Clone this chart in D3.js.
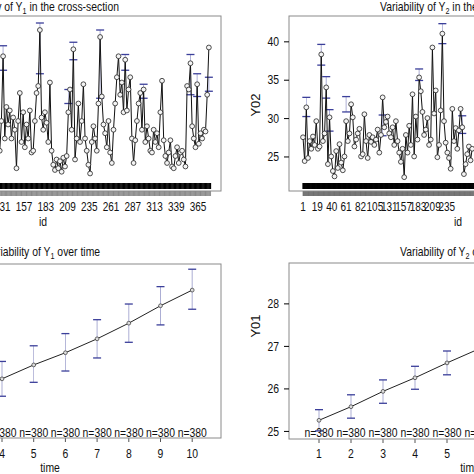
<!DOCTYPE html>
<html><head><meta charset="utf-8">
<script src="https://cdn.jsdelivr.net/npm/d3@7"></script>
<style>body{margin:0;background:#fff}text{font-family:"Liberation Sans",Arial,sans-serif;fill:#111}</style>
</head><body><svg id="c" width="474" height="474"></svg>
<script>
// ---- data ----
var tlValues = [23,40,77,30,48,38,46,30,42,35,13,40,56,28,45,25,38,30,46,22,23,40,56,60,92,42,35,45,39,28,62,23,15,12,18,13,17,11,19,14,20,45,58,35,81,18,30,50,28,40,61,30,23,15,10,28,37,30,23,50,88,54,38,33,25,40,22,16,35,50,65,77,55,62,45,75,46,58,65,30,16,29,40,50,56,35,58,28,37,30,23,22,35,28,33,25,45,63,29,20,16,22,29,14,13,20,25,16,22,23,18,14,60,58,73,37,30,25,61,27,33,30,35,34,55,82];
var tlCiIdx = [2,24,44,41,60,75,86,114,118,125];
var tlCiLo = [69,67,75,50,53,69,53,55,54,57];
var tlCiHi = [83,96,85,58,92,78,61,78,67,65];
var tlLabels = [1,27,53,79,105,131,157,183,209,235,261,287,313,339,365];

var trValues = [27.5,24.4,31.4,24.8,27,26,27.6,26.5,29.6,26,26.3,38.3,27,28,34,24,30.1,25,23.1,22.4,25.7,23.5,26.6,24.2,23.2,25,29.6,27,28,31.8,30.1,26.3,27.2,28,28.6,25,25.3,30.5,27,24.8,27.8,26.9,27.5,26.5,27.2,28.5,25.5,27.8,32.7,28.8,29.5,30.2,28,27.5,28.8,26.5,29.6,27,25.5,24.3,26,22.3,27.8,25.5,29,26.5,33.1,25,30.2,27.2,35.3,33.5,30.8,27.8,28.5,30,26.5,27.2,39.2,30.6,33.6,24.9,26.5,31,41,29.6,26.8,25.5,24.8,23.4,31.2,27,28.7,26,28.4,31.2,28.8,22.7,24,25.3,26.3,24.5,26];
var trCiIdx = [2,11,14,16,26,48,70,84,96];
var trCiLo = [30.2,36.9,32.6,28.3,30.8,27.7,34.9,39.7,28];
var trCiHi = [32.7,39.6,35.4,31.1,32.8,30.4,36.4,42.3,30.3];
var trLabels = [1,19,40,61,82,105,131,157,183,209,235];
var trTicks = [25,30,35,40];

var times = [1,2,3,4,5,6,7,8,9,10];
var y1Mean = [12,19,26,34,42,49,57,66,76,85];
var y1Lo = [2,9,16,24,32,38.5,46,55,65,74];
var y1Hi = [22,29,36,44,53,60,68,77,87,97];
var y2Mean = [25.25,25.57,25.93,26.25,26.6,26.93,27.25,27.6,27.93,28.25];
var y2Lo = [25.0,25.3,25.65,25.98,26.32,26.65,26.98,27.3,27.62,27.95];
var y2Hi = [25.5,25.85,26.2,26.52,26.88,27.2,27.52,27.88,28.22,28.55];
var y2Ticks = [25,26,27,28];
var nLabel = 'n=380';

var svg = d3.select('#c');
var blue = '#3b3f9a';

function box(x0, y0, x1, y1) {
  svg.append('rect').attr('x', x0).attr('y', y0).attr('width', x1 - x0).attr('height', y1 - y0)
    .attr('fill', 'none').attr('stroke', '#8a8a8a').attr('stroke-width', 1);
}

function ciBars(g, xs, ys, idx, lo, hi, cap) {
  idx.forEach(function (k, j) {
    var x = xs(k);
    g.append('line').attr('x1', x).attr('x2', x).attr('y1', ys(lo[j])).attr('y2', ys(hi[j]))
      .attr('stroke', blue).attr('stroke-width', 0.6).attr('opacity', 0.7);
    [lo[j], hi[j]].forEach(function (v) {
      g.append('line').attr('x1', x - cap).attr('x2', x + cap).attr('y1', ys(v)).attr('y2', ys(v))
        .attr('stroke', blue).attr('stroke-width', 1.3);
    });
  });
}

// cross-section panel
function crossPanel(opt) {
  var g = svg.append('g');
  var xl = d3.scaleLinear().domain([1, 380]).range(opt.xr);
  var y = d3.scaleLinear().domain(opt.yd).range([191, 16]);
  box(opt.bx[0], 16, opt.bx[1], 191);
  var pts = opt.values.map(function (v, i) { return {x: xl(opt.level(i)), y: y(v)}; });
  ciBars(g, function (i) { return xl(opt.level(i)); }, y, opt.ciIdx, opt.ciLo, opt.ciHi, 4);
  g.append('path').datum(pts).attr('fill', 'none').attr('stroke', '#111').attr('stroke-width', 1)
    .attr('d', d3.line().x(function (d) { return d.x; }).y(function (d) { return d.y; }));
  g.selectAll('circle.p').data(pts).enter().append('circle')
    .attr('cx', function (d) { return d.x; }).attr('cy', function (d) { return d.y; })
    .attr('r', 2.4).attr('fill', '#f4f4f4').attr('stroke', '#222').attr('stroke-width', 0.8);
  // n= band and id ticks
  var lv = d3.range(1, 381);
  g.selectAll('line.n').data(lv).enter().append('line')
    .attr('x1', xl).attr('x2', xl).attr('y1', 183).attr('y2', 189)
    .attr('stroke', '#000').attr('stroke-width', 1.2);
  g.selectAll('line.t').data(lv).enter().append('line')
    .attr('x1', xl).attr('x2', xl).attr('y1', 191).attr('y2', 196)
    .attr('stroke', '#333').attr('stroke-width', 0.5);
  opt.labels.forEach(function (lab, k) {
    g.append('text').attr('x', xl(1 + 26 * k)).attr('y', 211).attr('text-anchor', 'middle')
      .attr('font-size', opt.labSize).text(lab);
  });
  g.append('text').attr('x', opt.idX).attr('y', 226).attr('text-anchor', 'middle').attr('font-size', 13).text('id');
  return y;
}

crossPanel({
  xr: [24 - 156 * 0.8365, 24 + 223 * 0.8365], yd: [0, 100], bx: [-10, 221], labSize: 12.5,
  values: tlValues, level: function (i) { return 128 + 2 * i; },
  ciIdx: tlCiIdx, ciLo: tlCiLo, ciHi: tlCiHi, labels: tlLabels, idX: 43
});
var yTR = crossPanel({
  xr: [303, 303 + 379 * 0.553], yd: [20.5, 43.3], bx: [289, 480], labSize: 12.5,
  values: trValues, level: function (i) { return 1 + 3 * i; },
  ciIdx: trCiIdx, ciLo: trCiLo, ciHi: trCiHi, labels: trLabels, idX: 458
});
svg.append('g').attr('transform', 'translate(289,0)')
  .call(d3.axisLeft(yTR).tickValues(trTicks).tickSize(5).tickPadding(2).tickFormat(d3.format('d')))
  .call(function (a) {
    a.select('.domain').remove();
    a.selectAll('text').attr('font-size', 13);
  });
svg.append('text').attr('transform', 'translate(260,105) rotate(-90)').attr('text-anchor', 'middle')
  .attr('font-size', 13).attr('class', 'rot').text('Y02');

function title(x, y, anchor, pre, sub, post) {
  var t = svg.append('text').attr('x', x).attr('y', y).attr('text-anchor', anchor).attr('font-size', 13);
  t.append('tspan').text(pre);
  t.append('tspan').attr('font-size', 9).attr('dy', 3).text(sub);
  t.append('tspan').attr('dy', -3).text(post);
}
title(119, 11, 'end', 'Variability of Y', '1', ' in the cross-section');
title(380, 11, 'start', 'Variability of Y', '2', ' in the cross-section');

// over-time panels
function timePanel(opt) {
  var g = svg.append('g');
  var x = d3.scaleLinear().domain([opt.t0, opt.t0 + 1]).range([opt.x0, opt.x0 + opt.step]);
  var y = d3.scaleLinear().domain(opt.yd).range([opt.yb, opt.yt]);
  box(opt.bx[0], opt.yt, opt.bx[1], opt.yb);
  ciBars(g, function (i) { return x(times[i]); }, y, d3.range(times.length), opt.lo, opt.hi, 4);
  g.append('path').datum(times).attr('fill', 'none').attr('stroke', '#222').attr('stroke-width', 1)
    .attr('d', d3.line().x(function (t) { return x(t); }).y(function (t, i) { return y(opt.mean[i]); }));
  g.selectAll('circle').data(times).enter().append('circle')
    .attr('cx', x).attr('cy', function (t, i) { return y(opt.mean[i]); })
    .attr('r', 1.9).attr('fill', '#ddd').attr('stroke', '#333').attr('stroke-width', 0.7);
  g.selectAll('text.n').data(times).enter().append('text')
    .attr('x', x).attr('y', opt.nY).attr('text-anchor', 'middle').attr('font-size', 13).text(nLabel);
  g.selectAll('text.t').data(times).enter().append('text')
    .attr('x', x).attr('y', 458).attr('text-anchor', 'middle').attr('font-size', 13)
    .text(function (t) { return t; });
  g.selectAll('line.t').data(times).enter().append('line')
    .attr('x1', x).attr('x2', x).attr('y1', opt.yb).attr('y2', opt.yb + 4).attr('stroke', '#555');
  g.append('text').attr('x', opt.timeX).attr('y', 472).attr('text-anchor', 'middle').attr('font-size', 13).text('time');
  return y;
}

timePanel({t0: 4, x0: 2, step: 31.7, yd: [0, 100], yb: 438, yt: 264, bx: [-10, 221],
  mean: y1Mean, lo: y1Lo, hi: y1Hi, nY: 437, timeX: 50});
var yBR = timePanel({t0: 1, x0: 319, step: 32, yd: [24.81, 28.95], yb: 439, yt: 263, bx: [289, 480],
  mean: y2Mean, lo: y2Lo, hi: y2Hi, nY: 437, timeX: 470});
svg.append('g').attr('transform', 'translate(289,0)')
  .call(d3.axisLeft(yBR).tickValues(y2Ticks).tickSize(5).tickPadding(2).tickFormat(d3.format('d')))
  .call(function (a) {
    a.select('.domain').remove();
    a.selectAll('text').attr('font-size', 13);
  });
svg.append('text').attr('transform', 'translate(260,326) rotate(-90)').attr('text-anchor', 'middle')
  .attr('font-size', 13).attr('class', 'rot').text('Y01');
title(100, 256, 'end', 'Variability of Y', '1', ' over time');
title(400, 256, 'start', 'Variability of Y', '2', ' over time');

// condense all text horizontally (reference uses a narrow face)
svg.selectAll('text').each(function () {
  var el = d3.select(this);
  if (el.classed('rot')) return;
  var a = el.attr('text-anchor') || (this.parentNode.getAttribute('text-anchor')) || 'start';
  el.style('transform-box', 'fill-box')
    .style('transform-origin', a === 'end' ? 'right center' : a === 'middle' ? 'center center' : 'left center')
    .style('transform', 'scaleX(0.8)');
});
</script></body></html>
